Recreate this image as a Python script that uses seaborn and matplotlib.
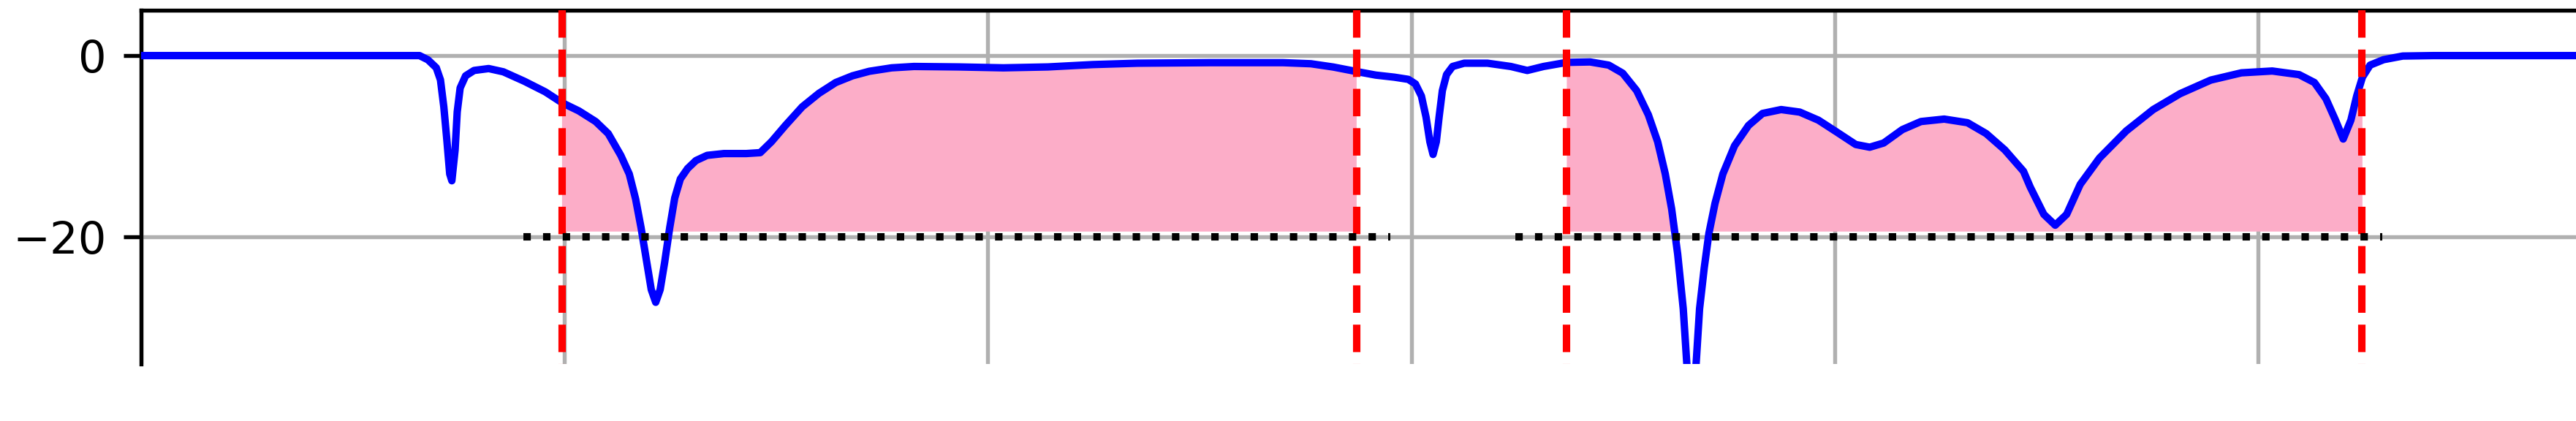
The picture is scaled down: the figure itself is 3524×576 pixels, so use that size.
import numpy as np
import pandas as pd
import matplotlib
matplotlib.use("Agg")
import matplotlib.pyplot as plt
import seaborn as sns

# frequency response (x in grid units, y in dB)
freq = [0.0, 0.6576, 0.6774, 0.6972, 0.7071, 0.715, 0.722, 0.729, 0.734, 0.7417, 0.7467,
        0.7536, 0.7665, 0.7864, 0.821, 0.8557, 0.9052, 0.9548, 0.9943, 1.034, 1.0737, 1.1034,
        1.133, 1.153, 1.168, 1.181, 1.1945, 1.205, 1.2155, 1.226, 1.2366, 1.2485, 1.2604,
        1.2737, 1.2908, 1.3106, 1.337, 1.3765, 1.4293, 1.4624, 1.4888, 1.5218, 1.5615, 1.601,
        1.6407, 1.6802, 1.72, 1.7727, 1.8255, 1.931, 2.0367, 2.142, 2.248, 2.3536, 2.525,
        2.697, 2.763, 2.8157, 2.871, 2.916, 2.96, 2.993, 3.0098, 3.024, 3.035, 3.044, 3.0515,
        3.0592, 3.0657, 3.0735, 3.0834, 3.0976, 3.125, 3.18, 3.235, 3.274, 3.3124, 3.3674,
        3.4224, 3.4664, 3.4994, 3.5324, 3.56, 3.582, 3.6, 3.615, 3.6293, 3.6424, 3.662, 3.681,
        3.692, 3.703, 3.7174, 3.736, 3.7636, 3.7966, 3.8296, 3.8736, 3.9176, 3.9617, 4.0057,
        4.0497, 4.0828, 4.1157, 4.1598, 4.2038, 4.2587, 4.3138, 4.358, 4.402, 4.446, 4.462,
        4.494, 4.521, 4.548, 4.58, 4.6254, 4.6889, 4.7524, 4.8159, 4.8884, 4.9608, 5.0335,
        5.097, 5.1332, 5.1603, 5.183, 5.2012, 5.2193, 5.233, 5.2466, 5.2647, 5.2965, 5.3417,
        5.4143, 5.76]
gain_db = [0.0, 0.0, -0.46, -1.34, -2.68, -5.64, -9.2, -13.05, -13.8, -10.4, -6.2,
           -3.57, -2.23, -1.64, -1.43, -1.79, -2.83, -4.0, -5.2, -6.1, -7.27, -8.6,
           -11.0, -13.05, -15.8, -19.0, -22.8, -25.8, -27.2, -25.8, -22.8, -19.0, -15.7,
           -13.6, -12.45, -11.57, -11.0, -10.8, -10.8, -10.7, -9.5, -7.7, -5.65, -4.16,
           -2.97, -2.23, -1.73, -1.35, -1.2, -1.25, -1.35, -1.25, -0.99, -0.84, -0.78,
           -0.78, -0.9, -1.26, -1.76, -2.15, -2.38, -2.62, -3.12, -4.46, -6.8, -9.5, -10.9,
           -9.5, -6.8, -3.86, -2.09, -1.2, -0.84, -0.84, -1.2, -1.64, -1.2, -0.75,
           -0.7, -1.05, -1.94, -3.86, -6.53, -9.5, -13.05, -16.9, -21.9, -27.9, -42.0, -27.9,
           -23.4, -19.6, -16.3, -13.05, -9.94, -7.7, -6.38, -5.95, -6.23, -7.12, -8.45,
           -9.8, -10.1, -9.64, -8.16, -7.27, -7.0, -7.4, -8.6, -10.4, -12.75, -14.5,
           -17.5, -18.7, -17.5, -14.2, -11.3, -8.3, -5.95, -4.2, -2.7, -1.9, -1.7,
           -2.1, -2.97, -4.75, -7.12, -9.2, -7.12, -4.46, -2.38, -1.05, -0.45, -0.05,
           0.0, 0.0]

# passband edges (red dashed) and -20 dB spec segments (black dotted)
band_lo = [0.995, 3.367]
band_hi = [2.871, 5.245]
spec_lo = [0.903, 3.246]
spec_hi = [2.950, 5.294]
spec_level = -20
fill_floor = -19.4

df = pd.DataFrame({"freq": freq, "gain": gain_db})

sns.set_style("white", rc={
    "axes.edgecolor": "black",
    "xtick.color": "black",
    "ytick.color": "black",
    "ytick.left": True,
    "axes.axisbelow": True,
})
plt.rcParams["font.family"] = ["DejaVu Sans"]

DPI = 487
W, H = 3524, 576
fig = plt.figure(figsize=(W / DPI, H / DPI), dpi=DPI)
ax = fig.add_axes([193 / W, 1 - 498 / H, 1 - 193 / W, (498 - 14) / H])

# shaded passband area between the response and the floor
x = df["freq"].to_numpy()
y = df["gain"].to_numpy()
for lo, hi in zip(band_lo, band_hi):
    sel = (x >= lo - 0.01) & (x <= hi + 0.01)
    xb, yb = x[sel], y[sel]
    ax.fill_between(xb, yb, fill_floor, where=yb > fill_floor, interpolate=True,
                    facecolor="#fcadc8", edgecolor="none", zorder=1)

sns.lineplot(data=df, x="freq", y="gain", color="blue", lw=1.5,
             estimator=None, sort=False, ax=ax, zorder=3)

ax.set_xlim(0, 5.751)
ax.set_ylim(-34, 5)

ax.vlines(band_lo + band_hi, 5, -34, colors="red", linestyles="--", lw=1.5, zorder=4)
ax.hlines([spec_level] * len(spec_lo), spec_lo, spec_hi, colors="black",
          linestyles=":", lw=1.5, zorder=4)

ax.set_xticks(np.arange(0, 6))
ax.set_xticklabels([])
ax.tick_params(axis="x", length=0)
ax.set_yticks([0, -20])
ax.tick_params(axis="y", labelsize=9, length=3.5, width=0.8)
ax.grid(True, color="#b0b0b0", lw=0.8)
ax.set_xlabel("")
ax.set_ylabel("")

for side in ["right", "bottom"]:
    ax.spines[side].set_visible(False)
for side in ["top", "left"]:
    ax.spines[side].set_linewidth(0.8)
    ax.spines[side].set_color("black")

fig.savefig("out.png", dpi=DPI, facecolor="white")
